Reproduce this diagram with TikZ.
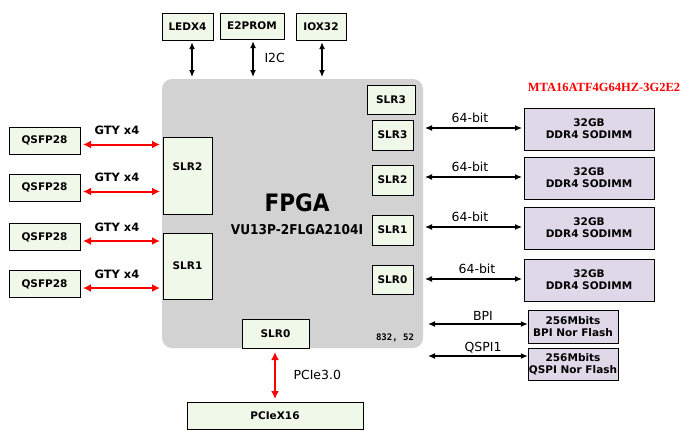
\documentclass[tikz,border=0pt]{standalone}
\usepackage{fontspec}
\setmainfont{DejaVu Sans}
\newfontfamily\serifb{Liberation Serif}
\newfontfamily\condb{DejaVu Sans Condensed}
\newfontfamily\monob{DejaVu Sans Mono}
\usetikzlibrary{arrows.meta}
\definecolor{lav}{RGB}{222,216,232}
\definecolor{lgreen}{RGB}{240,248,234}
\begin{document}
\begin{tikzpicture}[x=1pt,y=-1pt,
 gbox/.style={draw=black,fill=lgreen,font=\bfseries\fontsize{10.5}{12}\selectfont,inner sep=0pt},
 pbox/.style={draw=black,fill=lav,font=\bfseries\fontsize{10.5}{12}\selectfont,inner sep=0pt,align=center},
 barr/.style={{Latex[length=7pt,width=6pt]}-{Latex[length=7pt,width=6pt]},line width=1.2pt},
 rarr/.style={{Latex[length=8pt,width=8pt]}-{Latex[length=8pt,width=8pt]},red,line width=2.5pt},
 lbl/.style={font=\fontsize{12.5}{14}\selectfont}]
\useasboundingbox (0,0) rectangle (691,437);
\fill[gray!35,rounded corners=10pt] (162,79) rectangle (423,348);
\node[font=\condb\bfseries\fontsize{24}{26}\selectfont] (fpga) at (297,203) {FPGA};
\node[font=\condb\bfseries\fontsize{13.5}{15}\selectfont] (part) at (297,230) {VU13P-2FLGA2104I};
\node[font=\monob\bfseries\fontsize{9}{10}\selectfont] (coord) at (395,338) {832, 52};
% top boxes
\node[gbox,minimum width=51pt,minimum height=27pt] (led) at (187.5,26.5) {LEDX4};
\node[gbox,minimum width=64pt,minimum height=26pt] (e2) at (252,26) {E2PROM};
\node[gbox,minimum width=50pt,minimum height=27pt] (iox) at (321,26.5) {IOX32};
\coordinate (ledb) at (192,77); \coordinate (e2b) at (253,77); \coordinate (ioxb) at (322,77);
\draw[barr] (led.south -| ledb) ++(0,2) -- (ledb);
\draw[barr] (e2.south -| e2b) ++(0,2) -- (e2b);
\draw[barr] (iox.south -| ioxb) ++(0,2) -- (ioxb);
\node[lbl,anchor=west] (i2c) at (261,58) {I2C};
% SLRs
\node[gbox,minimum width=48pt,minimum height=29pt] (s3a) at (391,99.5) {SLR3};
\node[gbox,minimum width=41pt,minimum height=30pt] (s3) at (392.5,135) {SLR3};
\node[gbox,minimum width=41pt,minimum height=30pt] (s2) at (392.5,180) {SLR2};
\node[gbox,minimum width=41pt,minimum height=30pt] (s1) at (392.5,230) {SLR1};
\node[gbox,minimum width=41pt,minimum height=29pt] (s0) at (392.5,279.5) {SLR0};
\node[gbox,minimum width=49pt,minimum height=77pt,anchor=north west] (l2) at (163,137) {};
\node[font=\bfseries\fontsize{10.5}{12}\selectfont] (l2t) at (187.5,167) {SLR2};
\node[gbox,minimum width=49pt,minimum height=66pt,anchor=north west] (l1) at (163,233) {};
\node[font=\bfseries\fontsize{10.5}{12}\selectfont] (l1t) at (187.5,266) {SLR1};
\node[gbox,minimum width=67pt,minimum height=29pt] (b0) at (275.5,333.5) {SLR0};
% PCIe
\node[gbox,minimum width=176pt,minimum height=27pt] (pcie) at (275,415.5) {PCIeX16};
\coordinate (pa) at (275,352); \coordinate (pb) at (275,399);
\draw[rarr] (pa) -- (pb);
\node[lbl,anchor=west] (pl) at (290,375) {PCIe3.0};
% QSFP
\foreach \i/\y in {1/140.5,2/187.5,3/237,4/284}{
 \node[gbox,minimum width=71pt,minimum height=27pt] (q\i) at (44.5,\y) {QSFP28};
 \coordinate (qs\i) at (83,\y+4); \coordinate (qe\i) at (160,\y+4);
 \draw[rarr,line width=2pt] (qs\i) -- (qe\i);
 \node[font=\bfseries\fontsize{11.5}{13}\selectfont] (g\i) at (117,\y-10) {GTY x4};
}
% DDR
\node[font=\serifb\bfseries\fontsize{12.5}{14}\selectfont,text=red] (mta) at (604,87) {MTA16ATF4G64HZ-3G2E2};
\foreach \i/\y/\s/\lx in {1/129/s3/470,2/178/s2/470,3/228/s1/470,4/280/s0/477}{
 \node[pbox,minimum width=130pt,minimum height=42pt] (d\i) at (589,\y) {32GB\\DDR4 SODIMM};
 \coordinate (da\i) at (425,\y-1); \coordinate (db\i) at (522,\y-1);
 \draw[barr] (da\i) -- (db\i);
 \node[lbl] (bl\i) at (\lx,\y-11) {64-bit};
}
\node[pbox,minimum width=90pt,minimum height=33pt] (f1) at (573,326.5) {256Mbits\\BPI Nor Flash};
\node[pbox,minimum width=90pt,minimum height=32pt] (f2) at (573,364) {256Mbits\\QSPI Nor Flash};
\coordinate (fa1) at (428,324); \coordinate (fa2) at (428,356);
\draw[barr] (fa1) -- (f1.west |- fa1);
\draw[barr] (fa2) -- (f2.west |- fa2);
\node[lbl] (bpi) at (483,316) {BPI};
\node[lbl] (qspi) at (483,348) {QSPI1};
\end{tikzpicture}
\end{document}
